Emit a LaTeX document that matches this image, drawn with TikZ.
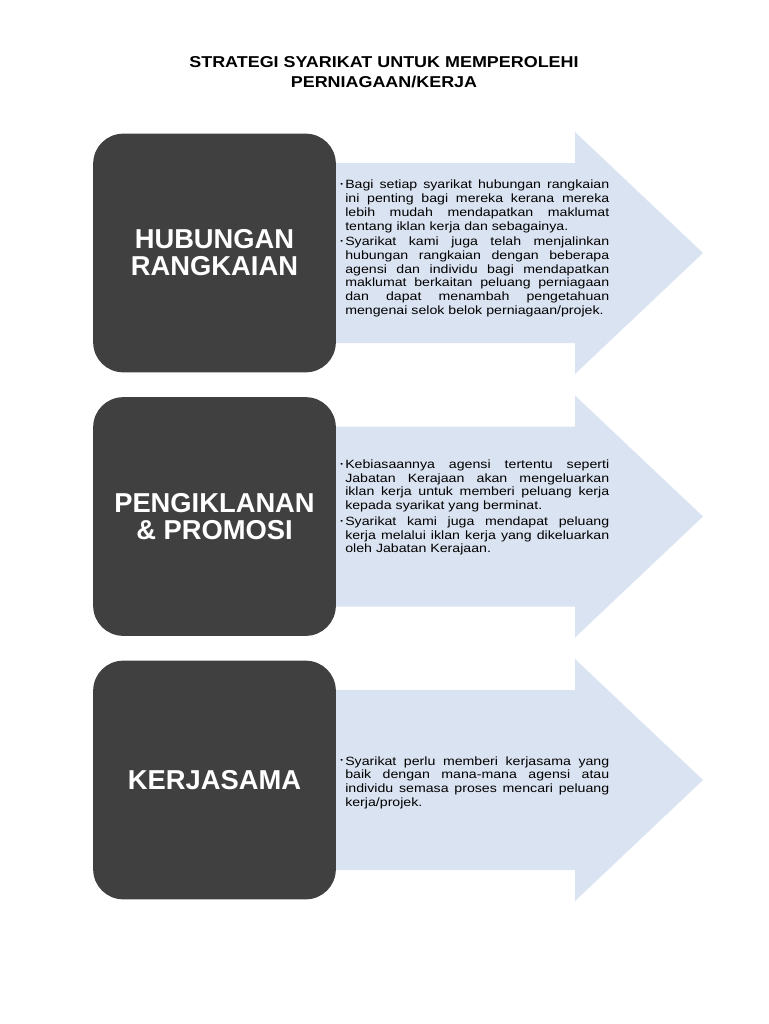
\documentclass[tikz,border=0pt]{standalone}
\usepackage{graphicx}
\usepackage{fontspec}
\setmainfont{Liberation Sans}
\newfontfamily\bodyfont[FakeStretch=1.18]{Liberation Sans}
\newfontfamily\headfont[FakeStretch=1.14]{Liberation Sans}
\usepackage{tikz}
\definecolor{boxgray}{RGB}{64,64,64}
\definecolor{arrowblue}{RGB}{218,227,241}
\newlength{\infowidth}
\setlength{\infowidth}{198pt}
\newcommand{\fullline}[1]{{\spaceskip=0pt\xspaceskip=0pt\makebox[\infowidth][s]{#1}}}
\newcommand{\bulletmark}{\leavevmode\llap{\raisebox{.35ex}{\scalebox{.55}{\textbullet}}\hspace{1.6pt}}}

\begin{document}
\begin{tikzpicture}[x=0.75pt, y=-0.75pt,
        labelbox/.style={fill=boxgray, rounded corners=22.5pt, minimum width=182pt, minimum height=179pt, text=white, align=center, font=\bfseries\fontsize{20.5pt}{20.2pt}\selectfont},
        infotext/.style={anchor=west, text width=\infowidth, inner sep=0pt, align=left, font=\bodyfont\fontsize{9pt}{10.3pt}\selectfont},
        arrowfill/.style={fill=arrowblue}]
        \useasboundingbox (0,0) rectangle (768,1024);

        %% title
        \node[align=center, font=\headfont\bfseries\fontsize{11.8pt}{15pt}\selectfont] (title) at (384,72) {STRATEGI SYARIKAT UNTUK MEMPEROLEHI\\PERNIAGAAN/KERJA};

        %% hubungan rangkaian
        \fill[arrowfill] (300,163) -- ++(275,0) -- ++(0,-31) -- ++(128,121) -- ++(-128,121) -- ++(0,-31) -- ++(-275,0) -- cycle;
        \node[labelbox] (hubungan) at (214.5,253) {HUBUNGAN\\RANGKAIAN};
        \node[infotext] (hubunganText) at (345,248.5) {%
          \bulletmark\fullline{Bagi setiap syarikat hubungan rangkaian}\\
          \fullline{ini penting bagi mereka kerana mereka}\\
          \fullline{lebih mudah mendapatkan maklumat}\\
          tentang iklan kerja dan sebagainya.\\[1.5pt]
          \bulletmark\fullline{Syarikat kami juga telah menjalinkan}\\
          \fullline{hubungan rangkaian dengan beberapa}\\
          \fullline{agensi dan individu bagi mendapatkan}\\
          \fullline{maklumat berkaitan peluang perniagaan}\\
          \fullline{dan dapat menambah pengetahuan}\\
          mengenai selok belok perniagaan/projek.};

        %% pengiklanan & promosi
        \fill[arrowfill] (300,426.5) -- ++(275,0) -- ++(0,-31) -- ++(128,121) -- ++(-128,121) -- ++(0,-31) -- ++(-275,0) -- cycle;
        \node[labelbox] (pengiklanan) at (214.5,516.5) {PENGIKLANAN\\\& PROMOSI};
        \node[infotext] (pengiklananText) at (345,507.5) {%
          \bulletmark\fullline{Kebiasaannya agensi tertentu seperti}\\
          \fullline{Jabatan Kerajaan akan mengeluarkan}\\
          \fullline{iklan kerja untuk memberi peluang kerja}\\
          kepada syarikat yang berminat.\\[1.5pt]
          \bulletmark\fullline{Syarikat kami juga mendapat peluang}\\
          \fullline{kerja melalui iklan kerja yang dikeluarkan}\\
          oleh Jabatan Kerajaan.};

        %% kerjasama
        \fill[arrowfill] (300,690) -- ++(275,0) -- ++(0,-31) -- ++(128,121) -- ++(-128,121) -- ++(0,-31) -- ++(-275,0) -- cycle;
        \node[labelbox] (kerjasama) at (214.5,780) {KERJASAMA};
        \node[infotext] (kerjasamaText) at (345,782.5) {%
          \bulletmark\fullline{Syarikat perlu memberi kerjasama yang}\\
          \fullline{baik dengan mana-mana agensi atau}\\
          \fullline{individu semasa proses mencari peluang}\\
          kerja/projek.};

\end{tikzpicture}
\end{document}
